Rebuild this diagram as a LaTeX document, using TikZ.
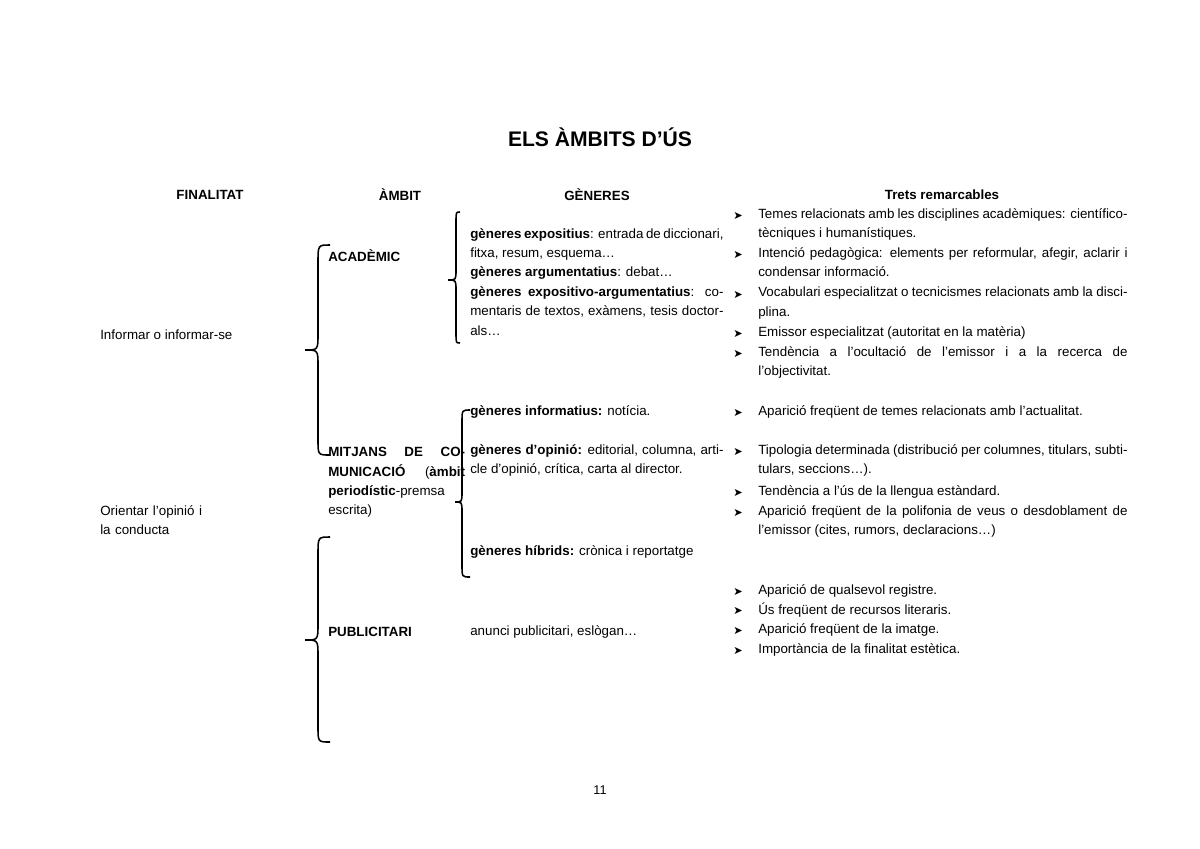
\documentclass[tikz,border=0pt]{standalone}
\usepackage{fontspec}
\setmainfont{Liberation Sans}
\newfontfamily\symfont{DejaVu Sans}
\tikzset{
	txt/.style={inner sep=0pt, anchor=west, font=\fontsize{9.5}{13.8}\selectfont},
	para/.style={inner sep=0pt, anchor=north west, align=justify, font=\fontsize{9.5}{13.8}\selectfont},
	head/.style={inner sep=0pt, font=\fontsize{9.5}{13.8}\selectfont\bfseries},
	brace/.style={line width=1.1pt}
}
\newcommand{\bul}{{\symfont\fontsize{8}{10}\selectfont ➤}}
\begin{document}
\begin{tikzpicture}[x=0.025cm, y=-0.025cm]
	\useasboundingbox (0,0) rectangle (1200,848);

	\node[inner sep=0pt, font=\fontsize{15}{18}\selectfont\bfseries] (title) at (600,137) {ELS ÀMBITS D'ÚS};

	\node[head] (hfin) at (210,195) {FINALITAT};
	\node[head] (hamb) at (400,195) {ÀMBIT};
	\node[head] (hgen) at (597,195) {GÈNERES};
	\node[head] (htrets) at (942,195) {Trets remarcables};

	% finalitat
	\node[txt] (inf) at (100,335) {Informar o informar-se};
	\node[para, text width=3.5cm, align=left] (ori) at (100,505) {Orientar l'opinió i\\la conducta};

	% braces
	\draw[brace] (330,245) .. controls (318,245) .. (318,262) -- (318,334) .. controls (318,350) .. (305,350)
		.. controls (318,350) .. (318,366) -- (318,440) .. controls (318,455) .. (330,455);
	\draw[brace] (460,212) .. controls (456,212) .. (456,222) -- (456,270) .. controls (456,280) .. (448,280)
		.. controls (456,280) .. (456,290) -- (456,333) .. controls (456,343) .. (460,343);
	\draw[brace] (470,410) .. controls (462,410) .. (462,422) -- (462,492) .. controls (462,502) .. (455,502)
		.. controls (462,502) .. (462,512) -- (462,565) .. controls (462,577) .. (470,577);
	\draw[brace] (330,537) .. controls (318,537) .. (318,554) -- (318,624) .. controls (318,640) .. (305,640)
		.. controls (318,640) .. (318,656) -- (318,727) .. controls (318,742) .. (330,742);

	% ambit
	\node[txt, font=\fontsize{9.5}{13.8}\selectfont\bfseries] (acad) at (328,256) {ACADÈMIC};
	\node[para, text width=3.42cm] (mitj) at (328,447) {\textbf{MITJANS DE COMUNICACIÓ} (\textbf{àmbit periodístic}-premsa escrita)};
	\node[txt, font=\fontsize{9.5}{13.8}\selectfont\bfseries] (publi) at (328,632) {PUBLICITARI};

	% generes
	\node[para, text width=6.33cm] (gacad) at (470,228) {\textbf{gèneres expositius}: entrada de diccionari, fitxa, resum, esquema\dots\\
		\textbf{gèneres argumentatius}: debat\dots\\
		\textbf{gèneres expositivo-argumentatius}: comentaris de textos, exàmens, tesis doctorals\dots};
	\node[txt] (ginf) at (470,412) {\textbf{gèneres informatius:} notícia.};
	\node[para, text width=6.33cm] (gop) at (470,444) {\textbf{gèneres d'opinió:} editorial, columna, article d'opinió, crítica, carta al director.};
	\node[txt] (ghib) at (470,552) {\textbf{gèneres híbrids:} crònica i reportatge};
	\node[txt] (gpub) at (470,632) {anunci publicitari, eslògan\dots};

	% trets
	\foreach \y/\t in {
		216/{Temes relacionats amb les disciplines acadèmiques: científico-tècniques i humanístiques.},
		255/{Intenció pedagògica: elements per reformular, afegir, aclarir i condensar informació.},
		295/{Vocabulari especialitzat o tecnicismes relacionats amb la disciplina.},
		334/{Emissor especialitzat (autoritat en la matèria)},
		354/{Tendència a l'ocultació de l'emissor i a la recerca de l'objectivitat.},
		413/{Aparició freqüent de temes relacionats amb l'actualitat.},
		452/{Tipologia determinada (distribució per columnes, titulars, subtitulars, seccions\dots).},
		493/{Tendència a l'ús de la llengua estàndard.},
		513/{Aparició freqüent de la polifonia de veus o desdoblament de l'emissor (cites, rumors, declaracions\dots)},
		592/{Aparició de qualsevol registre.},
		611/{Ús freqüent de recursos literaris.},
		631/{Aparició freqüent de la imatge.},
		651/{Importància de la finalitat estètica.}
	}{
		\node[txt] (b\y) at (733,\y) {\bul};
		\node[para, text width=9.23cm] (t\y) at (758,\y-8) {\t};
	}

	\node[inner sep=0pt, font=\fontsize{9}{11}\selectfont] (page) at (600,790) {11};
\end{tikzpicture}
\end{document}
